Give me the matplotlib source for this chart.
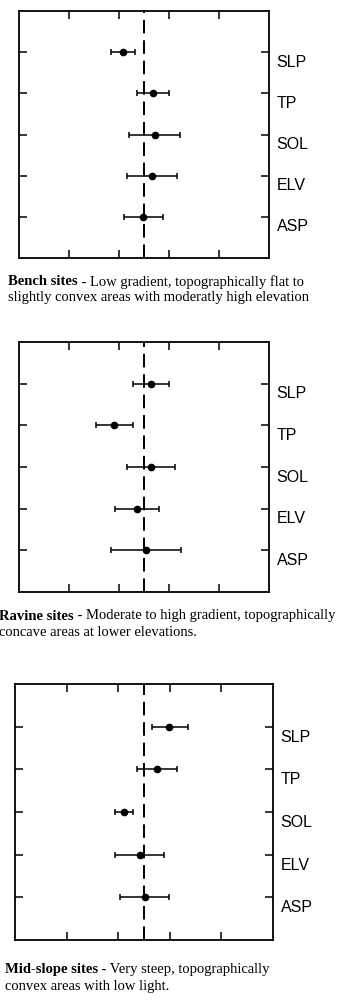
import numpy as np
import matplotlib.pyplot as plt

# variables, listed top to bottom in every panel
variables = ["SLP", "TP", "SOL", "ELV", "ASP"]

# coefficient means and interval ends per site type
bench_mean = [-0.168, 0.072, 0.088, 0.064, -0.008]
bench_lo = [-0.264, -0.056, -0.120, -0.136, -0.160]
bench_hi = [-0.072, 0.200, 0.288, 0.264, 0.152]

ravine_mean = [0.056, -0.240, 0.056, -0.056, 0.016]
ravine_lo = [-0.088, -0.384, -0.136, -0.232, -0.264]
ravine_hi = [0.200, -0.088, 0.248, 0.120, 0.296]

mid_mean = [0.194, 0.101, -0.155, -0.031, 0.008]
mid_lo = [0.062, -0.054, -0.225, -0.225, -0.186]
mid_hi = [0.341, 0.256, -0.085, 0.155, 0.194]

x_ticks = [-0.6, -0.2, 0.2, 0.6]

captions = [
    ("Bench sites", " - Low gradient, topographically flat to",
     "slightly convex areas with moderatly high elevation"),
    ("Ravine sites", " - Moderate to high gradient, topographically",
     "concave areas at lower elevations."),
    ("Mid-slope sites", " - Very steep, topographically",
     "convex areas with low light."),
]

W, H = 339, 1004
fig = plt.figure(figsize=(W / 100, H / 100), dpi=100)

# axes boxes in pixels: left, right, top, bottom
boxes = [(19, 269, 12, 259), (19, 269, 343, 593), (15, 273, 685, 941)]
caption_pos = [(8, 282, 298), (-1, 616, 633), (5, 970, 987)]
panels = [(bench_mean, bench_lo, bench_hi),
          (ravine_mean, ravine_lo, ravine_hi),
          (mid_mean, mid_lo, mid_hi)]

serif = "Liberation Serif"
sans = "Liberation Sans"
cap_size = 10.5

for (l, r, t, b), (mean, lo, hi), cap, (cx, cy1, cy2) in zip(
        boxes, panels, captions, caption_pos):
    ax = fig.add_axes([l / W, 1 - b / H, (r - l) / W, (b - t) / H])
    ypos = np.arange(len(variables), 0, -1)
    mean = np.array(mean)
    err = [mean - np.array(lo), np.array(hi) - mean]
    ax.axvline(0, color="black", lw=1.4, dashes=(7, 3.5))
    ax.errorbar(mean, ypos, xerr=err, fmt="o", color="black", ms=4.5,
                elinewidth=1.1, capsize=2.5, capthick=1.1)
    ax.set_xlim(-1, 1)
    ax.set_ylim(0, 6)
    ax.set_xticks(x_ticks)
    ax.set_yticks(ypos)
    ax.tick_params(direction="in", length=6, width=1.1, top=True,
                   right=True, labelbottom=False, labelleft=False)
    for s in ax.spines.values():
        s.set_linewidth(1.3)
    for name, y in zip(variables, ypos):
        ax.text(1.03, y - 0.22, name, transform=ax.get_yaxis_transform(),
                ha="left", va="center", fontsize=11.5, family=sans,
                clip_on=False)

    bold = fig.text(cx / W, 1 - cy1 / H, cap[0], fontsize=cap_size,
                    family=serif, weight="bold", ha="left", va="center")
    ax.annotate(cap[1], xy=(1, 0.5), xycoords=bold, ha="left", va="center",
                fontsize=cap_size, family=serif, annotation_clip=False)
    fig.text(cx / W, 1 - cy2 / H, cap[2], fontsize=cap_size, family=serif,
             ha="left", va="center")

fig.savefig("out.png", dpi=100)
